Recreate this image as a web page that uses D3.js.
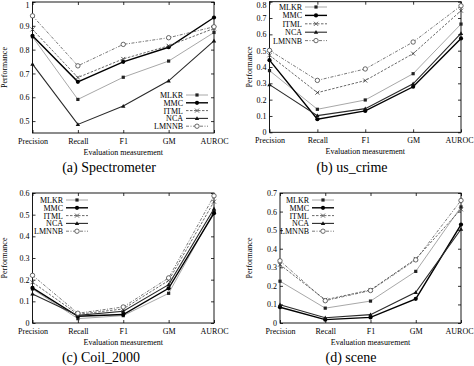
<!DOCTYPE html>
<html>
  <head>
    <title>Performance by evaluation measurement</title>
    <script src="https://d3js.org/d3.v7.min.js" charset="utf-8"></script>
    <style type="text/css">
      body { margin: 0; background: #fff; }
      svg text { font-family: "Liberation Serif", "DejaVu Serif", serif; fill: #000; }
      .axis path { display: none; }
      .axis line { stroke: #000; stroke-width: 0.8; }
      .axis text { font-size: 8px; }
    </style>
  </head>
  <body>
    <script type="text/javascript">

    // Categories and methods
    var categories = ["Precision", "Recall", "F1", "GM", "AUROC"];
    var methods = ["MLKR", "MMC", "ITML", "NCA", "LMNNB"];

    // Values, one row per method (same order as methods)
    var spectrometer = [
      [0.854, 0.591, 0.684, 0.752, 0.872],
      [0.858, 0.665, 0.749, 0.810, 0.935],
      [0.885, 0.683, 0.761, 0.816, 0.889],
      [0.739, 0.486, 0.563, 0.669, 0.837],
      [0.942, 0.732, 0.822, 0.850, 0.896]
    ];
    var usCrime = [
      [0.378, 0.141, 0.198, 0.359, 0.663],
      [0.442, 0.080, 0.131, 0.279, 0.575],
      [0.472, 0.243, 0.317, 0.482, 0.745],
      [0.292, 0.102, 0.145, 0.297, 0.606],
      [0.502, 0.318, 0.388, 0.553, 0.775]
    ];
    var coil2000 = [
      [0.157, 0.020, 0.034, 0.137, 0.515],
      [0.162, 0.031, 0.039, 0.160, 0.507],
      [0.188, 0.040, 0.065, 0.196, 0.560],
      [0.134, 0.035, 0.054, 0.177, 0.527],
      [0.220, 0.045, 0.074, 0.208, 0.587]
    ];
    var scene = [
      [0.225, 0.080, 0.118, 0.278, 0.625],
      [0.085, 0.018, 0.030, 0.130, 0.530],
      [0.314, 0.125, 0.178, 0.345, 0.612],
      [0.098, 0.028, 0.045, 0.165, 0.505],
      [0.335, 0.120, 0.175, 0.340, 0.660]
    ];

    // Y tick values per panel
    var ticksA = [0.5, 0.6, 0.7, 0.8, 0.9, 1];
    var ticksB = [0, 0.1, 0.2, 0.3, 0.4, 0.5, 0.6, 0.7, 0.8];
    var ticksC = [0, 0.1, 0.2, 0.3, 0.4, 0.5, 0.6];
    var ticksD = [0, 0.1, 0.2, 0.3, 0.4, 0.5, 0.6, 0.7];

    // Line styles per method
    var styles = [
      { stroke: "#a8a8a8", width: 1.0, dash: null, marker: "square" },
      { stroke: "#000", width: 1.4, dash: null, marker: "dot" },
      { stroke: "#444", width: 0.8, dash: "2.5,1.5", marker: "cross" },
      { stroke: "#2a2a2a", width: 1.1, dash: null, marker: "triangle" },
      { stroke: "#555", width: 0.8, dash: "3,1.5,1,1.5", marker: "circle" }
    ];

    var panels = [
      { data: spectrometer, ticks: ticksA, domain: [0.45, 1], caption: "(a) Spectrometer",
        left: 32.5, right: 214, top: 2, bottom: 133, minX: 0, maxX: 236, ylabX: 7,
        legX: 183, legY: 95, legDy: 7.8, capX: 109, capY: 172 },
      { data: usCrime, ticks: ticksB, domain: [0, 0.8], caption: "(b) us_crime",
        left: 269.5, right: 461, top: 1.7, bottom: 132.3, minX: 238, maxX: 473, ylabX: 252,
        legX: 302, legY: 7, legDy: 8.4, capX: 352, capY: 172 },
      { data: coil2000, ticks: ticksC, domain: [0, 0.6], caption: "(c) Coil_2000",
        left: 32.5, right: 214, top: 193, bottom: 323, minX: 0, maxX: 236, ylabX: 7,
        legX: 63, legY: 200, legDy: 7.8, capX: 101, capY: 362 },
      { data: scene, ticks: ticksD, domain: [0, 0.7], caption: "(d) scene",
        left: 280, right: 461, top: 193, bottom: 323, minX: 238, maxX: 473, ylabX: 252,
        legX: 309, legY: 200, legDy: 7.8, capX: 351, capY: 362 }
    ];

    var svg = d3.select("body")
        .append("svg")
        .attr("width", 474)
        .attr("height", 366);

    function drawMarker(g, type, cx, cy) {
      if (type === "square") {
        g.append("rect").attr("x", cx - 1.6).attr("y", cy - 1.6)
          .attr("width", 3.2).attr("height", 3.2).attr("fill", "#222");
      } else if (type === "dot") {
        g.append("circle").attr("cx", cx).attr("cy", cy).attr("r", 2.1).attr("fill", "#000");
      } else if (type === "cross") {
        g.append("path")
          .attr("d", "M" + (cx - 2) + "," + (cy - 2) + "L" + (cx + 2) + "," + (cy + 2) +
                     "M" + (cx - 2) + "," + (cy + 2) + "L" + (cx + 2) + "," + (cy - 2))
          .attr("stroke", "#333").attr("stroke-width", 0.8);
      } else if (type === "triangle") {
        g.append("path")
          .attr("d", "M" + cx + "," + (cy - 2.2) + "L" + (cx + 2.2) + "," + (cy + 1.6) +
                     "L" + (cx - 2.2) + "," + (cy + 1.6) + "Z")
          .attr("fill", "#111");
      } else {
        g.append("circle").attr("cx", cx).attr("cy", cy).attr("r", 2.2)
          .attr("fill", "#fff").attr("stroke", "#444").attr("stroke-width", 0.8);
      }
    }

    panels.forEach(function(p) {
      var g = svg.append("g");

      var x = d3.scalePoint().domain(categories).range([p.left, p.right]);
      var y = d3.scaleLinear().domain(p.domain).range([p.bottom, p.top]);

      // axes, ticks pointing inward like gnuplot
      var ya = g.append("g").attr("class", "axis")
          .attr("transform", "translate(" + p.left + ",0)")
          .call(d3.axisLeft(y).tickValues(p.ticks).tickSize(-3).tickPadding(3)
            .tickFormat(function(d) { return String(+d.toFixed(1)); }));
      g.append("g").attr("class", "axis")
          .attr("transform", "translate(" + p.right + ",0)")
          .call(d3.axisRight(y).tickValues(p.ticks).tickSize(-3).tickFormat(""));
      var xa = g.append("g").attr("class", "axis")
          .attr("transform", "translate(0," + p.bottom + ")")
          .call(d3.axisBottom(x).tickSize(-3).tickPadding(5));
      g.append("g").attr("class", "axis")
          .attr("transform", "translate(0," + p.top + ")")
          .call(d3.axisTop(x).tickSize(-3).tickFormat(""));

      // keep the top y label from being cut at the page edge
      ya.selectAll(".tick text").each(function(d) {
        if (y(d) < 5) d3.select(this).attr("y", 5 - y(d));
      });

      // keep the outer x labels inside their own panel
      xa.selectAll(".tick text").each(function(d) {
        var w = this.getComputedTextLength();
        var shift = 0;
        if (x(d) - w / 2 < p.minX) shift = p.minX - (x(d) - w / 2);
        if (x(d) + w / 2 > p.maxX) shift = p.maxX - (x(d) + w / 2);
        if (shift !== 0) d3.select(this).attr("dx", shift);
      });

      // frame
      g.append("rect")
          .attr("x", p.left).attr("y", p.top)
          .attr("width", p.right - p.left).attr("height", p.bottom - p.top)
          .attr("fill", "none").attr("stroke", "#000").attr("stroke-width", 0.9);

      // series
      var line = d3.line()
          .x(function(d, i) { return x(categories[i]); })
          .y(function(d) { return y(d); });

      p.data.forEach(function(vals, k) {
        var s = styles[k];
        g.append("path")
            .attr("d", line(vals))
            .attr("fill", "none")
            .attr("stroke", s.stroke)
            .attr("stroke-width", s.width)
            .attr("stroke-dasharray", s.dash);
        vals.forEach(function(v, i) {
          drawMarker(g, s.marker, x(categories[i]), y(v));
        });
      });

      // legend
      methods.forEach(function(m, k) {
        var s = styles[k];
        var ly = p.legY + k * p.legDy;
        g.append("text")
            .attr("x", p.legX).attr("y", ly + 3)
            .attr("text-anchor", "end")
            .style("font-size", "8px")
            .text(m);
        g.append("line")
            .attr("x1", p.legX + 3).attr("x2", p.legX + 25)
            .attr("y1", ly).attr("y2", ly)
            .attr("stroke", s.stroke)
            .attr("stroke-width", s.width)
            .attr("stroke-dasharray", s.dash);
        drawMarker(g, s.marker, p.legX + 14, ly);
      });

      // axis titles
      g.append("text")
          .attr("x", (p.left + p.right) / 2).attr("y", p.bottom + 22)
          .attr("text-anchor", "middle")
          .style("font-size", "8px")
          .text("Evaluation measurement");
      g.append("text")
          .attr("transform", "translate(" + p.ylabX + "," + ((p.top + p.bottom) / 2) + ") rotate(-90)")
          .attr("text-anchor", "middle")
          .style("font-size", "8px")
          .text("Performance");

      // caption
      g.append("text")
          .attr("x", p.capX).attr("y", p.capY)
          .attr("text-anchor", "middle")
          .style("font-size", "14px")
          .text(p.caption);
    });

    </script>
  </body>
</html>
